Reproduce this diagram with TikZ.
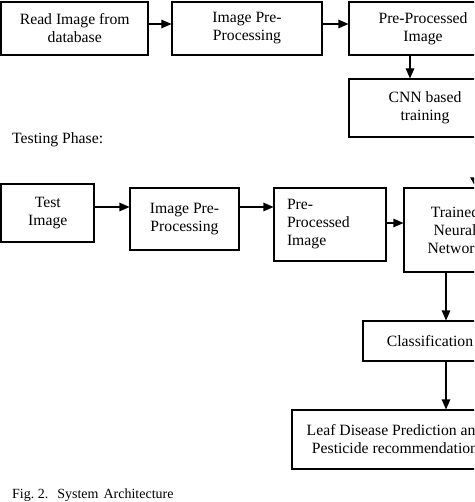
\documentclass[tikz,border=0pt]{standalone}
\usepackage{fontspec}
\setmainfont{Liberation Serif}
\usetikzlibrary{arrows.meta,calc}
\begin{document}
\begin{tikzpicture}[x=1pt,y=-1pt,
 box/.style={draw, line width=1.1pt, align=center, inner sep=0pt, font=\fontsize{15.7}{18}\selectfont},
 arr/.style={line width=1.1pt, -{Triangle[length=10pt,width=8.5pt]}},
 lbl/.style={anchor=base west, inner sep=0pt}]
\useasboundingbox (0,0) rectangle (474,502);
\clip (0,0) rectangle (474,502);
% training row
\node[box, minimum width=146.5pt, minimum height=53pt] (r1) at (74.75,28.5) {Read Image from\\database};
\node[box, minimum width=150pt, minimum height=53pt] (r2) at (247,28.5) {Image Pre-\\Processing};
\node[box, minimum width=148pt, minimum height=53pt] (r3) at (423,28.5) {Pre-Processed\\Image};
\node[box, minimum width=152pt, minimum height=58pt] (cnn) at (425,108) {CNN based\\training};
\draw[line width=2.5pt] (r1.north west) -- (r1.south west);
% label
\node[lbl, font=\fontsize{15.7}{18}\selectfont] (tp) at (12,144) {Testing Phase:};
% testing row
\node[box, minimum width=92.5pt, minimum height=58pt] (ti) at (47.75,213) {Test\\Image};
\draw[line width=2.5pt] (ti.north west) -- (ti.south west);
\node[box, minimum width=109pt, minimum height=62pt] (ipp) at (184.5,219) {Image Pre-\\Processing};
\node[box, minimum width=112pt, minimum height=73pt, text width=86pt, align=left] (ppi) at (330,224.5) {Pre-\\Processed\\Image};
\node[box, minimum width=102pt, minimum height=84pt] (tnn) at (455,230) {Trained\\Neural\\Network};
\node[box, minimum width=134pt, minimum height=40pt] (cls) at (430,341) {Classification};
\node[box, minimum width=206pt, minimum height=59pt] (ldp) at (395,439.5) {Leaf Disease Prediction and\\Pesticide recommendation};
% caption
\node[lbl, font=\fontsize{14}{16}\selectfont] (cap) at (12,498) {Fig.~2.\hspace{9pt}System\hspace{5pt}Architecture};
% connectors
\coordinate (ya) at (0,24);
\coordinate (xa) at (410,0);
\coordinate (xb) at (475.8,0);
\coordinate (yb) at (0,207);
\coordinate (yc) at (0,223);
\coordinate (xc) at (446,0);
\draw[arr] (r1.east |- ya) -- (r2.west |- ya);
\draw[arr] (r2.east |- ya) -- (r3.west |- ya);
\draw[arr] (r3.south -| xa) -- (cnn.north -| xa);
\draw[line width=1.1pt, -{Triangle[length=10pt,width=11pt]}] (cnn.south -| xb) -- (tnn.north -| xb);
\draw[arr] (ti.east |- yb) -- (ipp.west |- yb);
\draw[arr] (ipp.east |- yb) -- (ppi.west |- yb);
\draw[arr] (ppi.east |- yc) -- (tnn.west |- yc);
\draw[arr] (tnn.south -| xc) -- (cls.north -| xc);
\draw[arr] (cls.south -| xc) -- (ldp.north -| xc);
\end{tikzpicture}
\end{document}
